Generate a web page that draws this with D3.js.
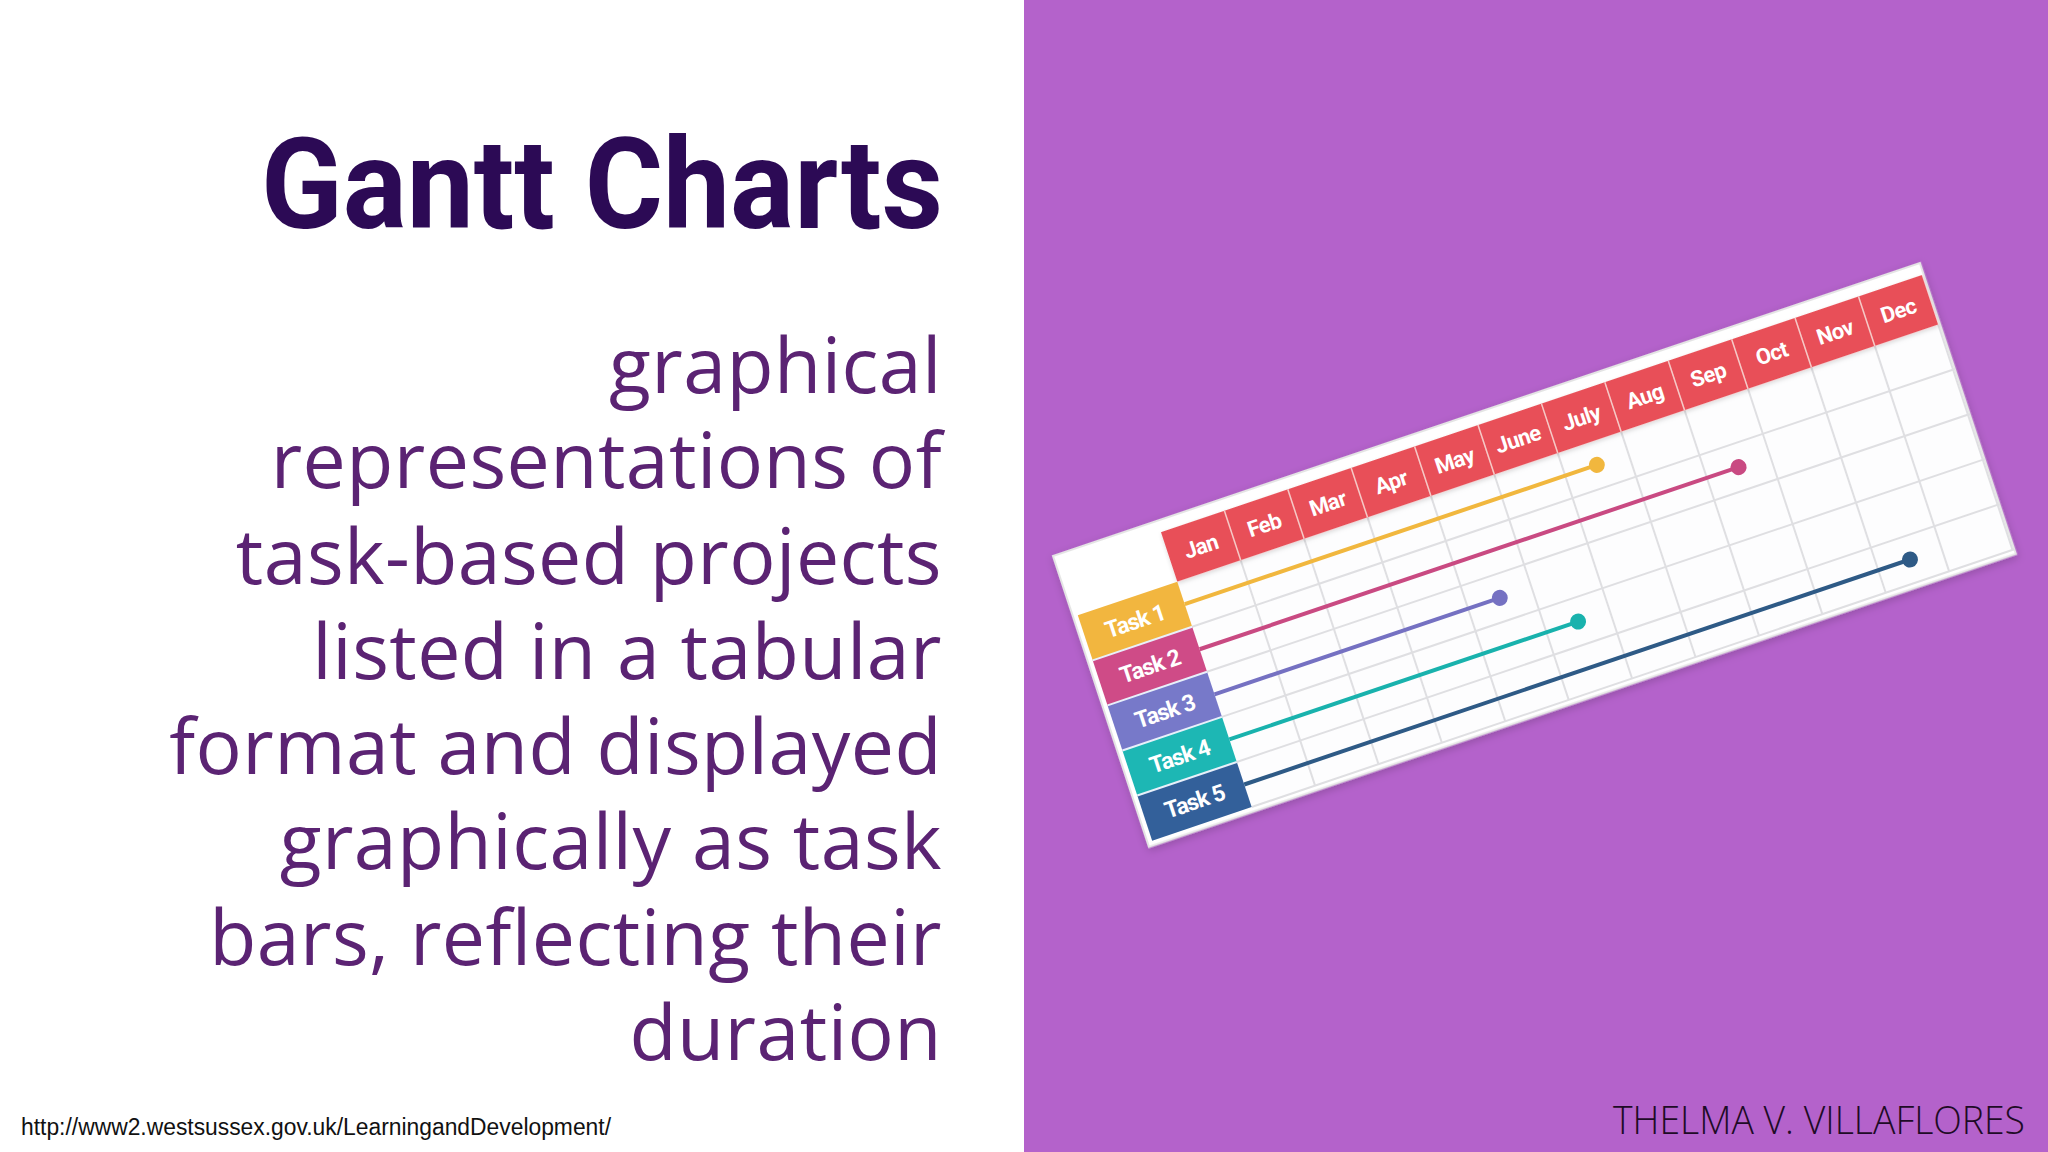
<!DOCTYPE html>
<html>
<head>
<meta charset="utf-8">
<script src="https://cdn.jsdelivr.net/npm/d3@7"></script>
<style>
html,body{margin:0;padding:0;overflow:hidden;background:#fff;}
svg{display:block;}
</style>
</head>
<body>
<svg id="c" width="2048" height="1152"></svg>
<script>
// ---------- data ----------
const months = ["Jan","Feb","Mar","Apr","May","June","July","Aug","Sep","Oct","Nov","Dec"];
const tasks = ["Task 1","Task 2","Task 3","Task 4","Task 5"];
const taskStart = ["Jan","Jan","Jan","Jan","Jan"];
const taskEnd = ["July","Sep","May","June","Nov"];
const labelColors = ["#F2B63F","#CF4B87","#7779C9","#1DB7B4","#33609A"];
const lineColors = ["#F1B73E","#C94A82","#7571C2","#19B2AD","#2E5A86"];
const titleText = "Gantt Charts";
const bodyLines = [
  "graphical",
  "representations of",
  "task-based projects",
  "listed in a tabular",
  "format and displayed",
  "graphically as task",
  "bars, reflecting their",
  "duration"
];
const sourceText = "http://www2.westsussex.gov.uk/LearningandDevelopment/";
const authorText = "THELMA V. VILLAFLORES";

// ---------- page ----------
const svg = d3.select("#c");
const W = 2048, H = 1152;

svg.append("rect").attr("x",0).attr("y",0).attr("width",1024).attr("height",H).attr("fill","#FFFFFF");
svg.append("rect").attr("x",1024).attr("y",0).attr("width",1024).attr("height",H).attr("fill","#B462CB");

function fit(sel, target){
  const n = sel.node();
  const len = n.getComputedTextLength();
  if (Math.abs(len - target) > 2) {
    sel.attr("textLength", target).attr("lengthAdjust","spacingAndGlyphs");
  }
}

// title
const title = svg.append("text")
  .attr("x", 943).attr("y", 228)
  .attr("text-anchor","end")
  .attr("font-family","Roboto, 'Open Sans', sans-serif")
  .attr("font-weight", 700)
  .attr("font-size", 127)
  .attr("fill","#2C0A55")
  .text(titleText);
fit(title, 682);

// body lines
const lineY = d3.scaleLinear().domain([0, bodyLines.length-1]).range([393, 1060]);
svg.append("g").selectAll("text").data(bodyLines).join("text")
  .attr("x", 942)
  .attr("y", (d,i) => lineY(i))
  .attr("text-anchor","end")
  .attr("font-family","'Open Sans', 'Noto Sans', sans-serif")
  .attr("font-weight", 400)
  .attr("font-size", 77)
  .attr("letter-spacing", 0.45)
  .attr("fill","#5B2373")
  .text(d => d);

// footers
const src = svg.append("text")
  .attr("x", 21).attr("y", 1135)
  .attr("font-family","'Liberation Sans', Arial, sans-serif")
  .attr("font-size", 23)
  .attr("fill","#111")
  .text(sourceText);
fit(src, 590);

const author = svg.append("text")
  .attr("x", 2025).attr("y", 1134)
  .attr("text-anchor","end")
  .attr("font-family","'Open Sans', 'Noto Sans', sans-serif")
  .attr("font-weight", 300)
  .attr("font-size", 39)
  .attr("fill","#1E0B26")
  .text(authorText);
fit(author, 412);

// ---------- rotated gantt card ----------
const CW = 915, CH = 306;
const O = [1053, 556], TR = [1920, 263], BL = [1149, 847];
const a = (TR[0]-O[0])/CW, b = (TR[1]-O[1])/CW, c = (BL[0]-O[0])/CH, d = (BL[1]-O[1])/CH;

const defs = svg.append("defs");
const sh = defs.append("filter").attr("id","sh").attr("x","-5%").attr("y","-10%").attr("width","110%").attr("height","125%");
sh.append("feDropShadow").attr("dx",0).attr("dy",3).attr("stdDeviation",4).attr("flood-color","#000").attr("flood-opacity",0.18);

const card = svg.append("g").attr("transform", `matrix(${a},${b},${c},${d},${O[0]},${O[1]})`);
card.append("rect").attr("x",0).attr("y",0).attr("width",CW).attr("height",CH)
  .attr("fill","#FFFFFF").attr("stroke","#E4E4E4").attr("stroke-width",2).attr("filter","url(#sh)");

const x = d3.scaleBand().domain(months).range([110, 913]);
const y = d3.scaleBand().domain(tasks).range([64, 301]);
const headerTop = 12;

// grid cells
const grid = card.append("g");
grid.append("rect").attr("x", x.range()[0]).attr("y", y.range()[0])
  .attr("width", x.range()[1]-x.range()[0]).attr("height", y.range()[1]-y.range()[0])
  .attr("fill","#FDFDFE");
grid.selectAll("line.v").data(months.slice(1).concat(["__end"])).join("line")
  .attr("x1", (m,i) => x.range()[0] + (i+1)*x.bandwidth())
  .attr("x2", (m,i) => x.range()[0] + (i+1)*x.bandwidth())
  .attr("y1", y.range()[0]).attr("y2", y.range()[1])
  .attr("stroke","#DFDFE2").attr("stroke-width",2);
grid.selectAll("line.h").data(tasks).join("line")
  .attr("x1", x.range()[0]).attr("x2", CW)
  .attr("y1", t => y(t) + y.bandwidth()).attr("y2", t => y(t) + y.bandwidth())
  .attr("stroke","#DFDFE2").attr("stroke-width",2);

// header
const hdrShadow = defs.append("filter").attr("id","hs").attr("x","-2%").attr("y","-20%").attr("width","104%").attr("height","160%");
hdrShadow.append("feDropShadow").attr("dx",0).attr("dy",2).attr("stdDeviation",2).attr("flood-color","#000").attr("flood-opacity",0.15);
const hdr = card.append("g").attr("filter","url(#hs)");
hdr.selectAll("rect").data(months).join("rect")
  .attr("x", m => x(m)).attr("y", headerTop)
  .attr("width", x.bandwidth()).attr("height", y.range()[0]-headerTop)
  .attr("fill","#E84F58");
card.append("g").selectAll("line").data(months.slice(1)).join("line")
  .attr("x1", m => x(m)).attr("x2", m => x(m))
  .attr("y1", headerTop).attr("y2", y.range()[0])
  .attr("stroke","#F6C9C6").attr("stroke-width",1.5);

const topAxis = d3.axisTop(x).tickSize(0).tickSizeOuter(0);
const ax = card.append("g")
  .attr("transform", `translate(0,${(headerTop + y.range()[0])/2})`)
  .call(topAxis);
ax.select(".domain").remove();
ax.selectAll("text")
  .attr("dy","0.35em").attr("y",0)
  .attr("fill","#FFFFFF")
  .attr("font-family","Roboto, 'Open Sans', sans-serif")
  .attr("font-weight",700)
  .attr("font-size",22)
  .attr("letter-spacing",-0.6);

// task labels
const lab = card.append("g");
lab.selectAll("rect").data(tasks).join("rect")
  .attr("x", 5).attr("y", t => y(t))
  .attr("width", x.range()[0]-5).attr("height", y.bandwidth())
  .attr("fill", (t,i) => labelColors[i]);
lab.selectAll("line").data(tasks.slice(1)).join("line")
  .attr("x1",5).attr("x2",x.range()[0])
  .attr("y1", t => y(t)).attr("y2", t => y(t))
  .attr("stroke","#E8F0FA").attr("stroke-width",2);

const leftAxis = d3.axisLeft(y).tickSize(0).tickSizeOuter(0);
const lax = card.append("g")
  .attr("transform", `translate(${(5 + x.range()[0])/2},0)`)
  .call(leftAxis);
lax.select(".domain").remove();
lax.selectAll("text")
  .attr("x",0).attr("dy","0.35em")
  .attr("text-anchor","middle")
  .attr("fill","#FFFFFF")
  .attr("font-family","Roboto, 'Open Sans', sans-serif")
  .attr("font-weight",700)
  .attr("font-size",23)
  .attr("letter-spacing",-1);

// task lines
const lines = card.append("g");
lines.selectAll("line").data(tasks).join("line")
  .attr("x1", (t,i) => x(taskStart[i]))
  .attr("x2", (t,i) => x(taskEnd[i]) + x.bandwidth()/2)
  .attr("y1", t => y(t) + y.bandwidth()/2)
  .attr("y2", t => y(t) + y.bandwidth()/2)
  .attr("stroke", (t,i) => lineColors[i])
  .attr("stroke-width", 4);
lines.selectAll("circle").data(tasks).join("circle")
  .attr("cx", (t,i) => x(taskEnd[i]) + x.bandwidth()/2)
  .attr("cy", t => y(t) + y.bandwidth()/2)
  .attr("r", 8)
  .attr("fill", (t,i) => lineColors[i]);
</script>
</body>
</html>
